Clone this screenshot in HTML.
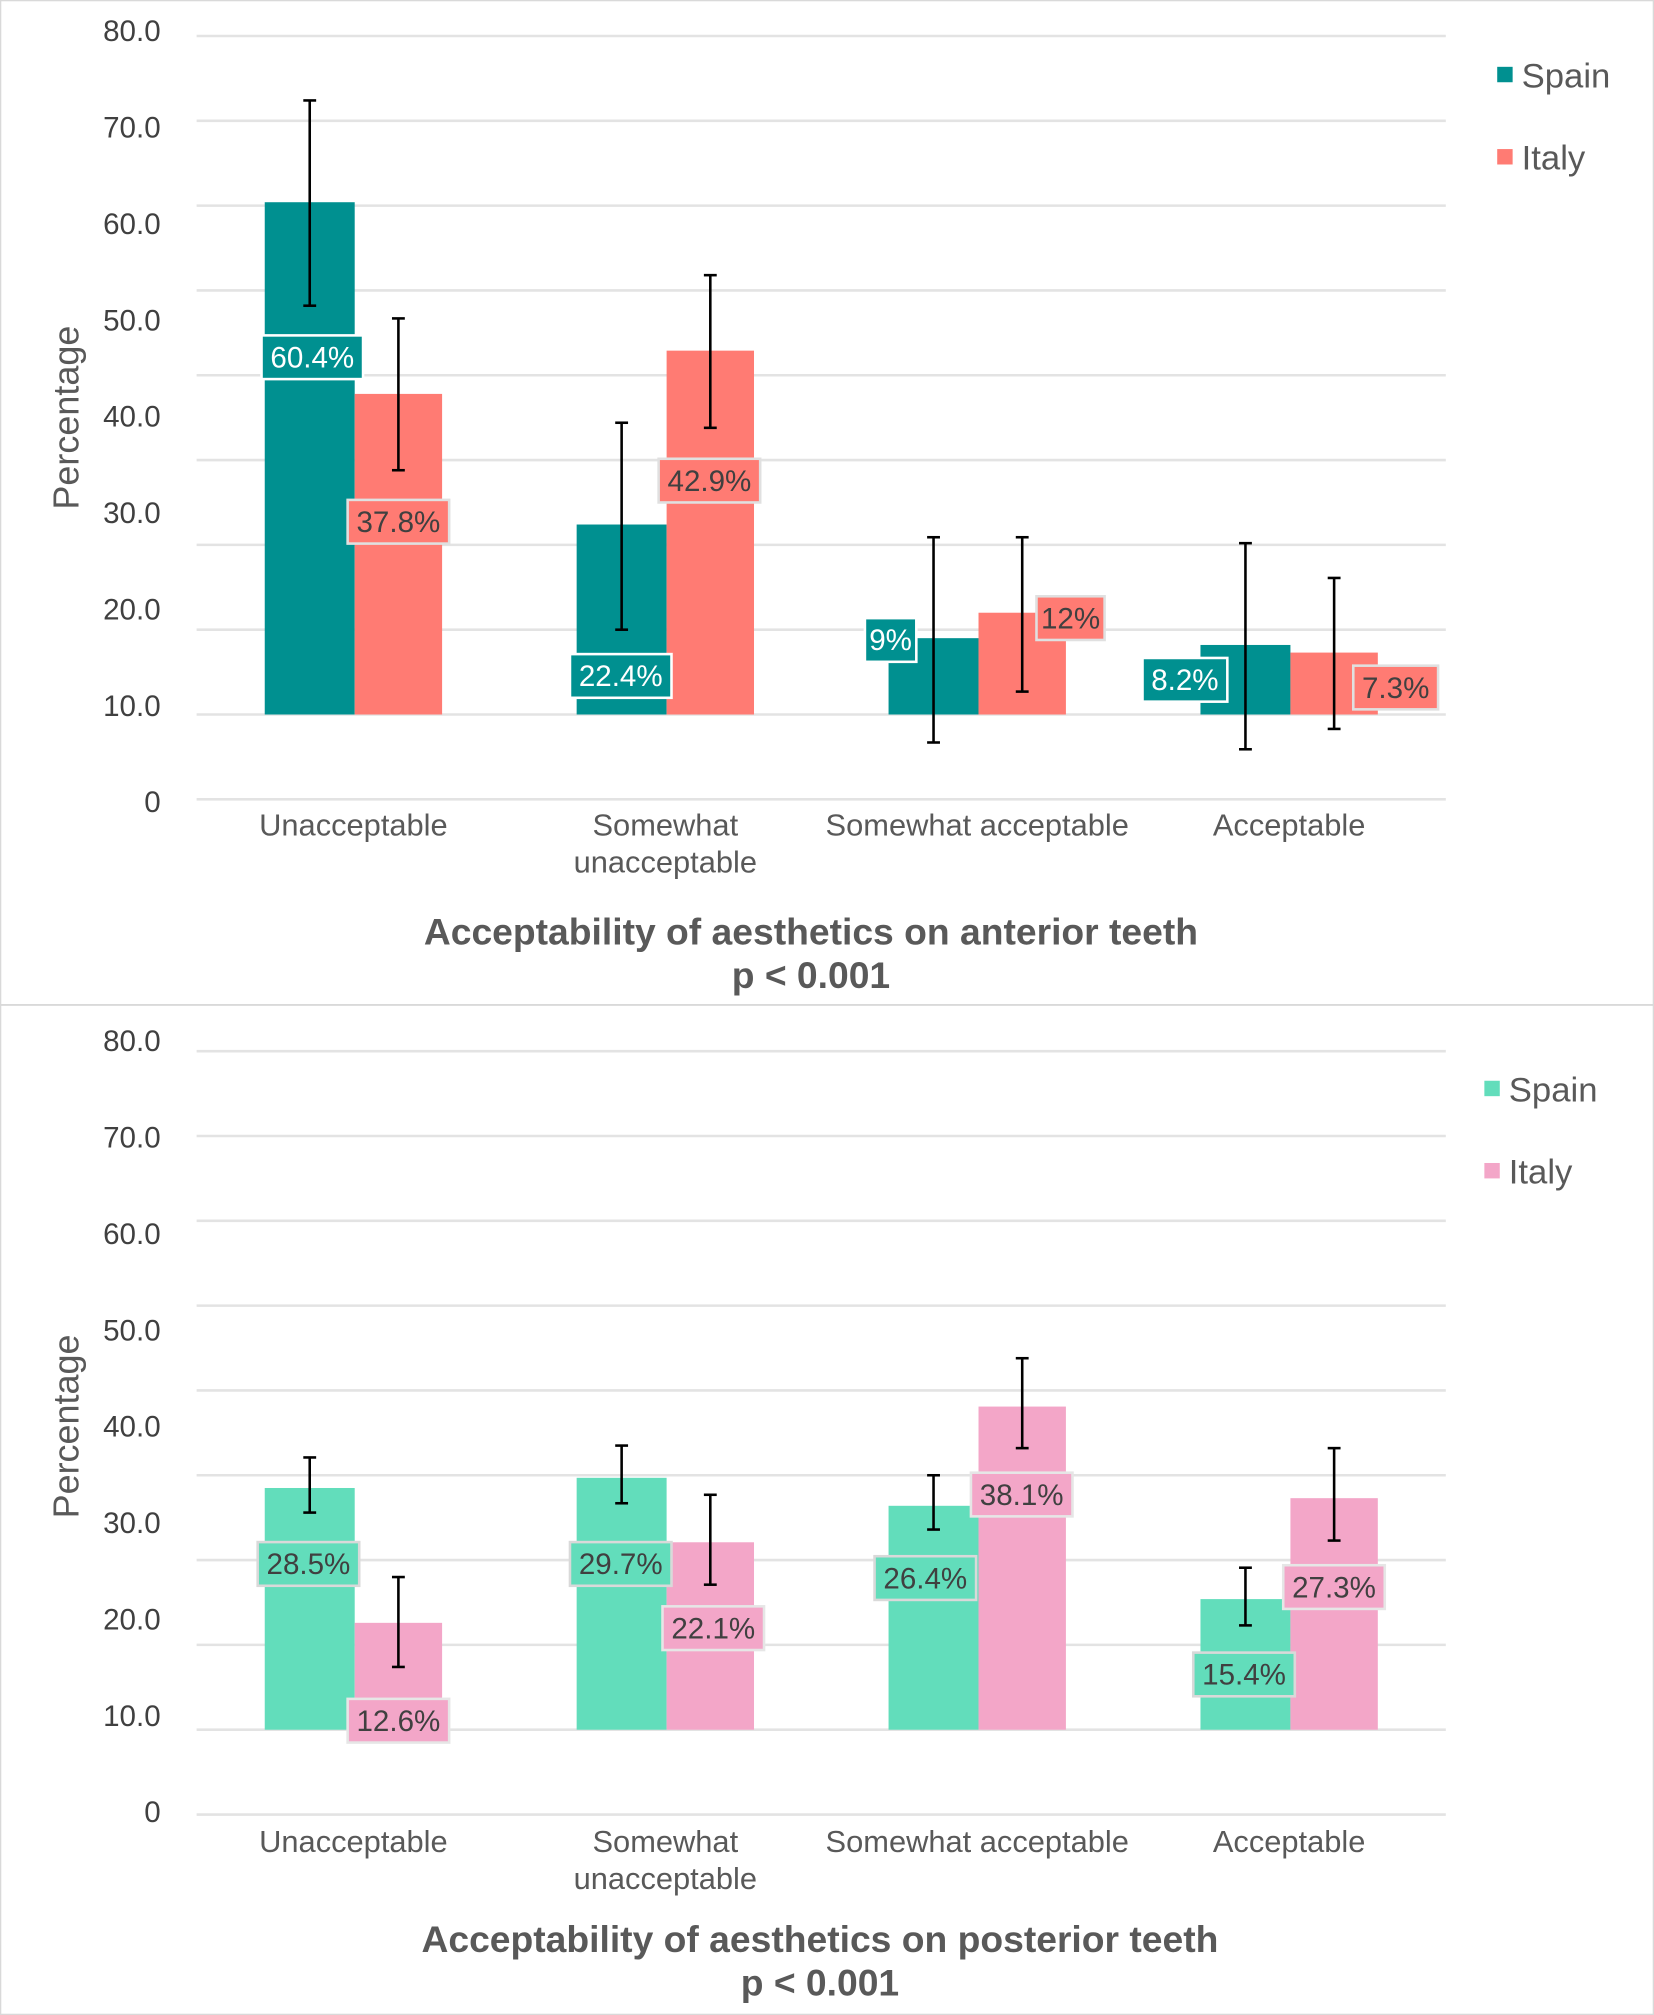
<!DOCTYPE html>
<html><head><meta charset="utf-8"><style>
html,body{margin:0;padding:0;background:#fff}
svg{display:block;font-family:"Liberation Sans",Arial,sans-serif}
</style></head><body>
<svg id="root" width="1654" height="2015" viewBox="0 0 1287 1568" preserveAspectRatio="none" xmlns="http://www.w3.org/2000/svg">
<rect x="0.5" y="0.5" width="1286" height="1567" fill="#fff" stroke="#d9d9d9"/>
<line x1="0" y1="782" x2="1287" y2="782" stroke="#d9d9d9" stroke-width="1.5"/>
<g id="g1"></g>
<g id="g2"></g>
</svg>
<script>
const categories = [["Unacceptable"],["Somewhat","unacceptable"],["Somewhat acceptable"],["Acceptable"]];
const tickLabels = ["0","10.0","20.0","30.0","40.0","50.0","60.0","70.0","80.0"];
const antSpain = [60.4, 22.4, 9, 8.2];
const antItaly = [37.8, 42.9, 12, 7.3];
const antSpainErrHi = [72.4, 34.4, 20.9, 20.2];
const antSpainErrLo = [48.2, 10.0, -3.3, -4.1];
const antItalyErrHi = [46.7, 51.8, 20.9, 16.1];
const antItalyErrLo = [28.8, 33.8, 2.7, -1.7];
const antSpainLabels = ["60.4%","22.4%","9%","8.2%"];
const antItalyLabels = ["37.8%","42.9%","12%","7.3%"];
const postSpain = [28.5, 29.7, 26.4, 15.4];
const postItaly = [12.6, 22.1, 38.1, 27.3];
const postSpainErrHi = [32.1, 33.5, 30.0, 19.1];
const postSpainErrLo = [25.6, 26.7, 23.6, 12.3];
const postItalyErrHi = [18.0, 27.7, 43.8, 33.2];
const postItalyErrLo = [7.4, 17.1, 33.2, 22.3];
const postSpainLabels = ["28.5%","29.7%","26.4%","15.4%"];
const postItalyLabels = ["12.6%","22.1%","38.1%","27.3%"];

const NS="http://www.w3.org/2000/svg";
function mk(parent,tag,attrs,text){const e=document.createElementNS(NS,tag);for(const k in attrs)e.setAttribute(k,attrs[k]);if(text!==undefined)e.textContent=text;parent.appendChild(e);return e;}

function drawChart(g,cfg){
  const base=cfg.base, unit=6.6;
  const y=v=>base-v*unit;
  const cx=i=>275+i*242.7;
  for(let k=-1;k<=8;k++){
    const ln=mk(g,'line',{x1:153,x2:1125,y1:base-k*66,y2:base-k*66,stroke:'#e3e3e3','stroke-width':2});
    
    
  }
  tickLabels.forEach((t,i)=>{
    const tx=mk(g,'text',{x:cfg.tickRight,y:cfg.tick0-i*75,'text-anchor':'end','font-size':23,fill:'#404040'},t);
    
    
  });
  const yt=mk(g,'text',{x:0,y:0,transform:`translate(61,${cfg.ytitleY}) rotate(-90)`,'text-anchor':'middle','font-size':28,fill:'#595959'},'Percentage');
  
  
  for(let i=0;i<4;i++){
    const c=cx(i);
    const b1=mk(g,'rect',{x:c-69,y:y(cfg.spain[i]),width:70,height:cfg.spain[i]*unit,fill:cfg.cS});
    
    
    const b2=mk(g,'rect',{x:c+1,y:y(cfg.italy[i]),width:68,height:cfg.italy[i]*unit,fill:cfg.cI});
    
    
  }
  for(let i=0;i<4;i++){
    [[cx(i)-34,cfg.sHi[i],cfg.sLo[i]],[cx(i)+35,cfg.iHi[i],cfg.iLo[i]]].forEach(([x,h,l])=>{
      const eg=mk(g,'g',{stroke:'#000','stroke-width':2});
      
      
      mk(eg,'line',{x1:x,x2:x,y1:y(h),y2:y(l)});
      mk(eg,'line',{x1:x-5,x2:x+5,y1:y(h),y2:y(h)});
      mk(eg,'line',{x1:x-5,x2:x+5,y1:y(l),y2:y(l)});
    });
  }
  function lab(text,x,yy,fill,stroke,col){
    const w=text.length*13+14;
    const lg=mk(g,'g',{});
    
    
    mk(lg,'rect',{x:x-w/2,y:yy-17,width:w,height:34,fill:fill,stroke:stroke,'stroke-width':2});
    mk(lg,'text',{x:x,y:yy+8,'text-anchor':'middle','font-size':23,fill:col},text);
  }
  for(let i=0;i<4;i++){
    lab(cfg.sLab[i],cfg.sLx[i],cfg.sLy[i],cfg.cS,cfg.sStroke,cfg.sText);
    lab(cfg.iLab[i],cfg.iLx[i],cfg.iLy[i],cfg.cI,cfg.iStroke,'#404040');
  }
  categories.forEach((lines,i)=>{
    lines.forEach((ln,j)=>{
      const t=mk(g,'text',{x:cx(i),y:cfg.catY+j*29,'text-anchor':'middle','font-size':24,fill:'#595959'},ln);
      
      
    });
  });
  const t1=mk(g,'text',{x:cfg.titleX,y:cfg.titleY,'text-anchor':'middle','font-size':29,'font-weight':'bold',fill:'#595959'},cfg.title);
  
  
  const t2=mk(g,'text',{x:cfg.titleX,y:cfg.titleY+34,'text-anchor':'middle','font-size':29,'font-weight':'bold',fill:'#595959'},'p < 0.001');
  
  
  [['Spain',cfg.cS,cfg.legY],['Italy',cfg.cI,cfg.legY+64]].forEach(([n,c,ly])=>{
    const lg=mk(g,'g',{});
    
    
    mk(lg,'rect',{x:cfg.legX,y:ly-6,width:12,height:12,fill:c});
    mk(lg,'text',{x:cfg.legX+19,y:ly+10,'font-size':27,fill:'#595959'},n);
  });
}

drawChart(document.getElementById('g1'),{
  base:556,tick0:632,tickRight:125,ytitleY:325,catY:650,titleX:631,titleY:735,
  spain:antSpain,italy:antItaly,sHi:antSpainErrHi,sLo:antSpainErrLo,iHi:antItalyErrHi,iLo:antItalyErrLo,
  sLab:antSpainLabels,iLab:antItalyLabels,
  sLx:[243,483,693,922],sLy:[278,526,498,529],iLx:[310,552,833,1086],iLy:[406,374,481,535],
  cS:'#009090',cI:'#FF7B73',sStroke:'#ffffff',iStroke:'#e0e0e0',sText:'#ffffff',
  title:'Acceptability of aesthetics on anterior teeth',legX:1165,legY:58
});
drawChart(document.getElementById('g2'),{
  base:1346,tick0:1418,tickRight:125,ytitleY:1110,catY:1441,titleX:638,titleY:1519,
  spain:postSpain,italy:postItaly,sHi:postSpainErrHi,sLo:postSpainErrLo,iHi:postItalyErrHi,iLo:postItalyErrLo,
  sLab:postSpainLabels,iLab:postItalyLabels,
  sLx:[240,483,720,968],sLy:[1217,1217,1228,1303],iLx:[310,555,795,1038],iLy:[1339,1267,1163,1235],
  cS:'#62DDBB',cI:'#F3A6C8',sStroke:'#d9d9d9',iStroke:'#e6e6e6',sText:'#404040',
  title:'Acceptability of aesthetics on posterior teeth',legX:1155,legY:847
});
</script>
</body></html>
